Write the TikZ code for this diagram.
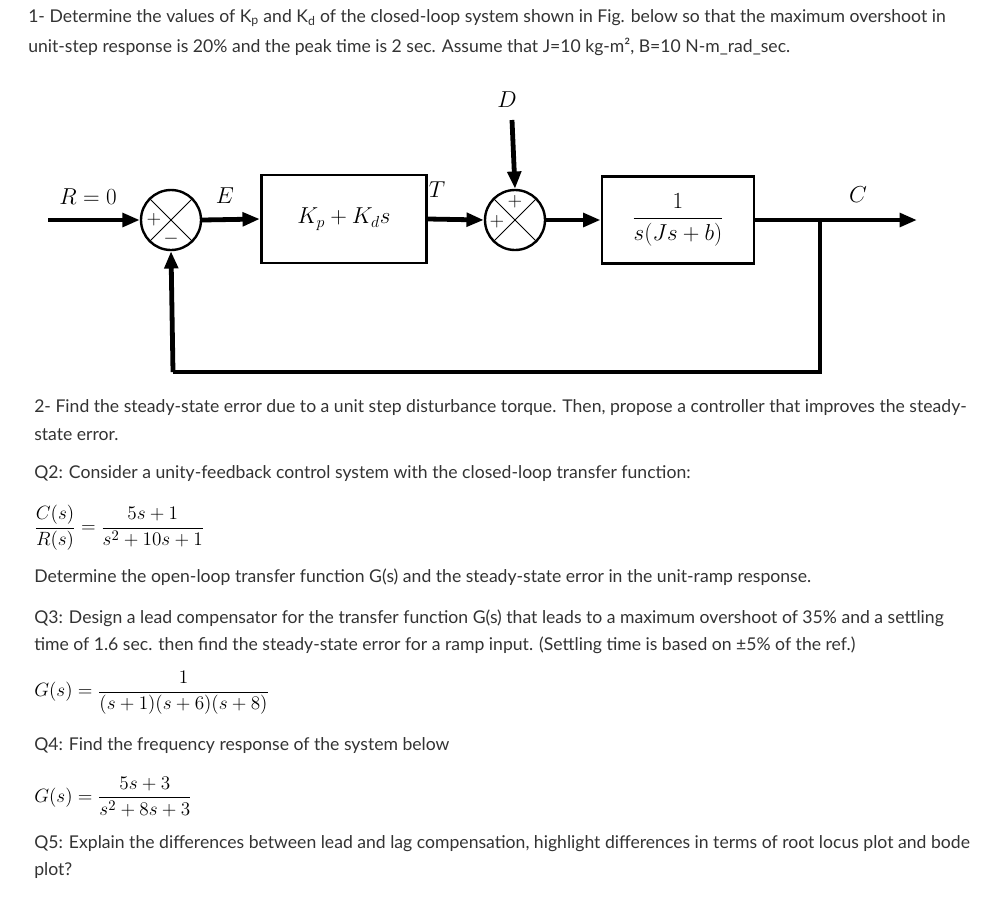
\documentclass[tikz,border=0pt]{standalone}
\usepackage{amsmath}
\usepackage{fontspec}
\setmainfont{Lato}
\usetikzlibrary{arrows.meta}
\definecolor{txt}{HTML}{333333}
\begin{document}
\begin{tikzpicture}[x=0.75pt,y=-0.75pt,
  tl/.style={anchor=west,inner sep=0pt,text=txt,font=\fontsize{13.2}{15}\selectfont},
  fm/.style={anchor=west,inner sep=0pt,text=black,font=\fontsize{15.4}{17}\selectfont},
  sig/.style={line width=3.6pt,-{Triangle[length=13pt,width=10pt]}},
  fb/.style={line width=3.6pt},
  blk/.style={draw,line width=2.2pt,inner sep=0pt},
  sumc/.style={draw,circle,line width=1.8pt,minimum size=45pt,inner sep=0pt},
  pm/.style={font=\fontsize{14}{16}\selectfont,inner sep=0pt},
  lab/.style={font=\fontsize{17}{19}\selectfont}]
\useasboundingbox (0,0) rectangle (984,904);
\fill[white] (0,0) rectangle (984,904);
% text
\node[tl] (l1) at (28,18) {1- Determine the values of K\textsubscript{p} and K\textsubscript{d} of the closed-loop system shown in Fig. below so that the maximum overshoot in};
\node[tl] (l2) at (28,47) {unit-step response is 20\% and the peak time is 2 sec. Assume that J=10 kg-m², B=10 N-m\_rad\_sec.};
\node[tl] (l3) at (34,408) {2- Find the steady-state error due to a unit step disturbance torque. Then, propose a controller that improves the steady-};
\node[tl] (l4) at (34,435) {state error.};
\node[tl] (l5) at (34,474) {Q2: Consider a unity-feedback control system with the closed-loop transfer function:};
\node[fm] (f1) at (34,528) {$\dfrac{C(s)}{R(s)}=\dfrac{5s+1}{s^2+10s+1}$};
\node[tl] (l6) at (34,577) {Determine the open-loop transfer function G(s) and the steady-state error in the unit-ramp response.};
\node[tl] (l7) at (34,618) {Q3: Design a lead compensator for the transfer function G(s) that leads to a maximum overshoot of 35\% and a settling};
\node[tl] (l8) at (34,645) {time of 1.6 sec. then find the steady-state error for a ramp input. (Settling time is based on ±5\% of the ref.)};
\node[fm] (f2) at (34,693) {$G(s)=\dfrac{1}{(s+1)(s+6)(s+8)}$};
\node[tl] (l9) at (34,746) {Q4: Find the frequency response of the system below};
\node[fm] (f3) at (34,797) {$G(s)=\dfrac{5s+3}{s^2+8s+3}$};
\node[tl] (l10) at (34,844) {Q5: Explain the differences between lead and lag compensation, highlight differences in terms of root locus plot and bode};
\node[tl] (l11) at (34,871) {plot?};
% diagram
\node[sumc] (s1) at (171,220) {};
\draw[line width=0.6pt] (s1.north west)--(s1.south east) (s1.north east)--(s1.south west);
\node[pm] at (154,220) {$+$};
\node[pm] at (171,239) {$-$};
\node[sumc] (s2) at (515,220) {};
\draw[line width=0.6pt] (s2.north west)--(s2.south east) (s2.north east)--(s2.south west);
\node[pm] at (497,222) {$+$};
\node[pm] at (515,202) {$+$};
\node[blk,minimum width=124pt,minimum height=66pt] (b1) at (344,219) {\fontsize{17}{19}\selectfont$K_p+K_d s$};
\node[blk,minimum width=114pt,minimum height=65pt] (b2) at (678,220) {\fontsize{16}{19}\selectfont$\dfrac{1}{s(Js+b)}$};
\coordinate (in) at (48,220);
\coordinate (out) at (917,220);
\coordinate (tap) at (820,220);
\coordinate (bot) at (820,372);
\coordinate (botl) at (173,372);
\coordinate (dtop) at (512,120);
\draw[sig] (in) -- (s1.west);
\draw[sig] (s1.east) -- (b1.west);
\draw[sig] (b1.east) -- (s2.west);
\draw[sig] (s2.east) -- (b2.west);
\draw[sig] (b2.east) -- (out);
\draw[sig] (dtop) -- (s2.north);
\draw[fb] (tap) -- (bot) -- (botl);
\draw[sig] (botl) -- (s1.south);
\node[lab] (lr) at (88,197) {$R=0$};
\node[lab] (le) at (225,196) {$E$};
\node[lab] (lt) at (437,190) {$T$};
\node[lab] (lc) at (858,195) {$C$};
\node[lab,font=\fontsize{19}{21}\selectfont] (ld) at (507,100) {$D$};
\end{tikzpicture}
\end{document}
